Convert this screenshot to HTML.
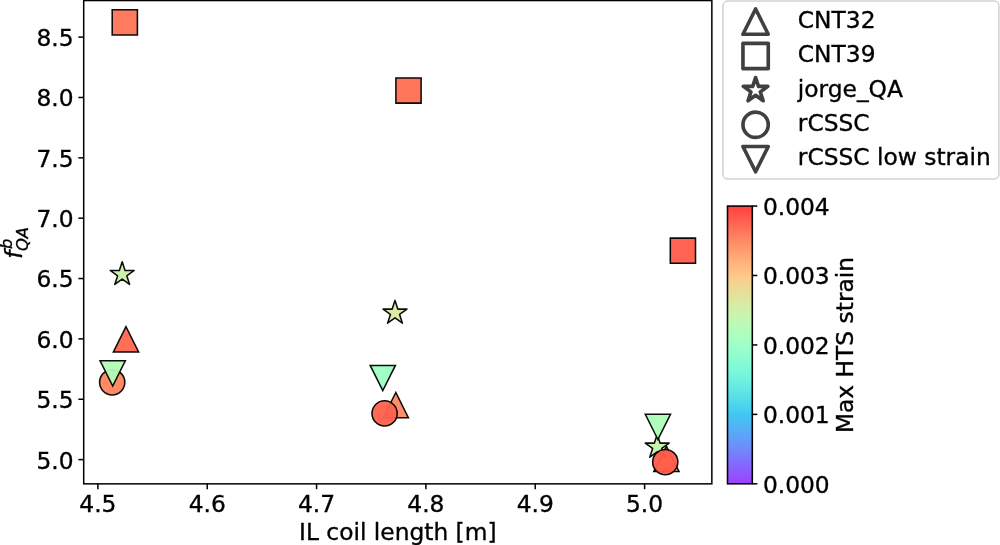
<!DOCTYPE html>
<html lang="en"><head><meta charset="utf-8"><title>IL coil length vs f_QA^b</title>
<style>
html,body{margin:0;padding:0;background:#fff;}
body{width:1000px;height:545px;overflow:hidden;}
svg{display:block;}
text{font-family:"DejaVu Sans","Liberation Sans",sans-serif;font-size:23.33px;fill:#000;stroke:#000;stroke-width:0.35px;}
.it{font-style:italic;}
</style></head><body>
<svg width="1000" height="545" viewBox="0 0 1000 545">
<rect width="1000" height="545" fill="#fff"/>

<g stroke="#000" stroke-opacity="0.95" fill-opacity="0.95" stroke-width="1.55" stroke-linejoin="miter" stroke-miterlimit="10">
<path d="M126.00,326.70L113.40,351.90L138.60,351.90Z" fill="#ff674f"/>
<path d="M395.80,392.50L383.20,417.70L408.40,417.70Z" fill="#ff8860"/>
<path d="M666.40,446.30L653.80,471.50L679.00,471.50Z" fill="#ffa771"/>
<path d="M112.20,9.80H137.40V35.00H112.20Z" fill="#ff7456"/>
<path d="M395.90,77.90H421.10V103.10H395.90Z" fill="#ff6f52"/>
<path d="M670.30,238.10H695.50V263.30H670.30Z" fill="#ff5c49"/>
<path d="M122.20,261.70L125.03,270.41L134.18,270.41L126.78,275.79L129.61,284.49L122.20,279.11L114.79,284.49L117.62,275.79L110.22,270.41L119.37,270.41Z" fill="#caf1a7" stroke-linejoin="round"/>
<path d="M395.00,300.40L397.83,309.11L406.98,309.11L399.58,314.49L402.41,323.19L395.00,317.81L387.59,323.19L390.42,314.49L383.02,309.11L392.17,309.11Z" fill="#d7e99f" stroke-linejoin="round"/>
<path d="M657.20,434.40L660.03,443.11L669.18,443.11L661.78,448.49L664.61,457.19L657.20,451.81L649.79,457.19L652.62,448.49L645.22,443.11L654.37,443.11Z" fill="#c6f3aa" stroke-linejoin="round"/>
<circle cx="112.20" cy="382.30" r="12.60" fill="#ff855e"/>
<circle cx="384.60" cy="413.40" r="12.60" fill="#ff614c"/>
<circle cx="665.25" cy="462.05" r="12.60" fill="#ff5c49"/>
<path d="M112.70,386.00L100.10,360.80L125.30,360.80Z" fill="#b2fcb6"/>
<path d="M382.80,390.60L370.20,365.40L395.40,365.40Z" fill="#9cffc3"/>
<path d="M657.90,439.50L645.30,414.30L670.50,414.30Z" fill="#adfdba"/>
</g>
<g stroke="#000" stroke-width="1.5" fill="none">
<rect x="83.7" y="0.55" width="628.15" height="483.3"/>
<line x1="97.90" y1="483.85" x2="97.90" y2="489.20"/>
<line x1="207.24" y1="483.85" x2="207.24" y2="489.20"/>
<line x1="316.58" y1="483.85" x2="316.58" y2="489.20"/>
<line x1="425.92" y1="483.85" x2="425.92" y2="489.20"/>
<line x1="535.26" y1="483.85" x2="535.26" y2="489.20"/>
<line x1="644.60" y1="483.85" x2="644.60" y2="489.20"/>
<line x1="83.7" y1="459.60" x2="78.35" y2="459.60"/>
<line x1="83.7" y1="399.25" x2="78.35" y2="399.25"/>
<line x1="83.7" y1="338.89" x2="78.35" y2="338.89"/>
<line x1="83.7" y1="278.54" x2="78.35" y2="278.54"/>
<line x1="83.7" y1="218.18" x2="78.35" y2="218.18"/>
<line x1="83.7" y1="157.83" x2="78.35" y2="157.83"/>
<line x1="83.7" y1="97.47" x2="78.35" y2="97.47"/>
<line x1="83.7" y1="37.12" x2="78.35" y2="37.12"/>
</g>
<text x="97.90" y="512.1" text-anchor="middle">4.5</text>
<text x="207.24" y="512.1" text-anchor="middle">4.6</text>
<text x="316.58" y="512.1" text-anchor="middle">4.7</text>
<text x="425.92" y="512.1" text-anchor="middle">4.8</text>
<text x="535.26" y="512.1" text-anchor="middle">4.9</text>
<text x="644.60" y="512.1" text-anchor="middle">5.0</text>
<text x="73.5" y="468.50" text-anchor="end">5.0</text>
<text x="73.5" y="408.14" text-anchor="end">5.5</text>
<text x="73.5" y="347.79" text-anchor="end">6.0</text>
<text x="73.5" y="287.44" text-anchor="end">6.5</text>
<text x="73.5" y="227.08" text-anchor="end">7.0</text>
<text x="73.5" y="166.73" text-anchor="end">7.5</text>
<text x="73.5" y="106.37" text-anchor="end">8.0</text>
<text x="73.5" y="46.02" text-anchor="end">8.5</text>
<text x="397.8" y="539.6" text-anchor="middle">IL coil length [m]</text>
<g transform="translate(21.7,258.7) rotate(-90)"><text class="it" x="0" y="0">f</text><text class="it" x="7.6" y="6.0" style="font-size:16.33px">QA</text><text class="it" x="9.6" y="-9.3" style="font-size:16.33px">b</text></g>
<rect x="722.9" y="1.1" width="276" height="177.8" rx="4.6" ry="4.6" fill="#fff" stroke="#d2d2d2" stroke-width="1.5"/>
<g fill="none" stroke="#000" stroke-opacity="0.75" stroke-width="3.65" stroke-linejoin="round">
<path d="M755.60,8.95L742.95,34.25L768.25,34.25Z"/>
<path d="M742.95,43.33H768.25V68.63H742.95Z"/>
<path d="M755.60,77.51L758.49,86.39L767.82,86.39L760.27,91.88L763.15,100.76L755.60,95.27L748.05,100.76L750.93,91.88L743.38,86.39L752.71,86.39Z"/>
<circle cx="755.6" cy="124.74" r="12.65"/>
<path d="M755.60,171.77L742.95,146.47L768.25,146.47Z"/>
</g>
<text x="797.8" y="27.90">CNT32</text>
<text x="797.8" y="62.28">CNT39</text>
<text x="797.8" y="96.66">jorge_QA</text>
<text x="797.8" y="131.04">rCSSC</text>
<text x="797.8" y="165.42">rCSSC low strain</text>
<defs><linearGradient id="cb" x1="0" y1="0" x2="0" y2="1"><stop offset="0.0000" stop-color="#ff4040"/><stop offset="0.0156" stop-color="#ff4944"/><stop offset="0.0312" stop-color="#ff5249"/><stop offset="0.0469" stop-color="#ff5c4e"/><stop offset="0.0625" stop-color="#ff6552"/><stop offset="0.0781" stop-color="#ff6e57"/><stop offset="0.0938" stop-color="#ff775c"/><stop offset="0.1094" stop-color="#ff8060"/><stop offset="0.1250" stop-color="#ff8965"/><stop offset="0.1406" stop-color="#ff926a"/><stop offset="0.1562" stop-color="#ff9a6e"/><stop offset="0.1719" stop-color="#ffa273"/><stop offset="0.1875" stop-color="#ffaa77"/><stop offset="0.2031" stop-color="#ffb27c"/><stop offset="0.2188" stop-color="#ffb980"/><stop offset="0.2344" stop-color="#ffc085"/><stop offset="0.2500" stop-color="#ffc789"/><stop offset="0.2656" stop-color="#f9cd8d"/><stop offset="0.2812" stop-color="#f3d492"/><stop offset="0.2969" stop-color="#edd996"/><stop offset="0.3125" stop-color="#e7df9a"/><stop offset="0.3281" stop-color="#e1e49e"/><stop offset="0.3438" stop-color="#dbe8a2"/><stop offset="0.3594" stop-color="#d5eda6"/><stop offset="0.3750" stop-color="#cff0aa"/><stop offset="0.3906" stop-color="#c9f4ae"/><stop offset="0.4062" stop-color="#c3f7b2"/><stop offset="0.4219" stop-color="#bdf9b5"/><stop offset="0.4375" stop-color="#b7fbb9"/><stop offset="0.4531" stop-color="#b1fdbd"/><stop offset="0.4688" stop-color="#abfec0"/><stop offset="0.4844" stop-color="#a5ffc4"/><stop offset="0.5000" stop-color="#9fffc7"/><stop offset="0.5156" stop-color="#99ffca"/><stop offset="0.5312" stop-color="#93fecd"/><stop offset="0.5469" stop-color="#8dfdd1"/><stop offset="0.5625" stop-color="#87fbd4"/><stop offset="0.5781" stop-color="#81f9d7"/><stop offset="0.5938" stop-color="#7cf7d9"/><stop offset="0.6094" stop-color="#76f4dc"/><stop offset="0.6250" stop-color="#70f0df"/><stop offset="0.6406" stop-color="#6aede1"/><stop offset="0.6562" stop-color="#64e8e4"/><stop offset="0.6719" stop-color="#5ee4e6"/><stop offset="0.6875" stop-color="#58dfe8"/><stop offset="0.7031" stop-color="#52d9eb"/><stop offset="0.7188" stop-color="#4cd4ed"/><stop offset="0.7344" stop-color="#46cdef"/><stop offset="0.7500" stop-color="#40c7f0"/><stop offset="0.7656" stop-color="#46c0f2"/><stop offset="0.7812" stop-color="#4cb9f4"/><stop offset="0.7969" stop-color="#52b2f5"/><stop offset="0.8125" stop-color="#58aaf7"/><stop offset="0.8281" stop-color="#5ea2f8"/><stop offset="0.8438" stop-color="#649af9"/><stop offset="0.8594" stop-color="#6a92fa"/><stop offset="0.8750" stop-color="#7089fb"/><stop offset="0.8906" stop-color="#7680fc"/><stop offset="0.9062" stop-color="#7c77fd"/><stop offset="0.9219" stop-color="#816efe"/><stop offset="0.9375" stop-color="#8765fe"/><stop offset="0.9531" stop-color="#8d5cfe"/><stop offset="0.9688" stop-color="#9352ff"/><stop offset="0.9844" stop-color="#9949ff"/><stop offset="1.0000" stop-color="#9f40ff"/></linearGradient></defs>
<rect x="727.5" y="206.06" width="24.80" height="277.74" fill="url(#cb)" stroke="#000" stroke-width="1.55"/>
<g stroke="#000" stroke-width="1.5">
<line x1="752.3" y1="483.80" x2="757.35" y2="483.80"/>
<line x1="752.3" y1="414.37" x2="757.35" y2="414.37"/>
<line x1="752.3" y1="344.93" x2="757.35" y2="344.93"/>
<line x1="752.3" y1="275.50" x2="757.35" y2="275.50"/>
<line x1="752.3" y1="206.06" x2="757.35" y2="206.06"/>
</g>
<text x="762.9" y="492.60">0.000</text>
<text x="762.9" y="423.17">0.001</text>
<text x="762.9" y="353.73">0.002</text>
<text x="762.9" y="284.30">0.003</text>
<text x="762.9" y="214.86">0.004</text>
<text transform="translate(852.9,345) rotate(-90)" text-anchor="middle">Max HTS strain</text>
</svg></body></html>
